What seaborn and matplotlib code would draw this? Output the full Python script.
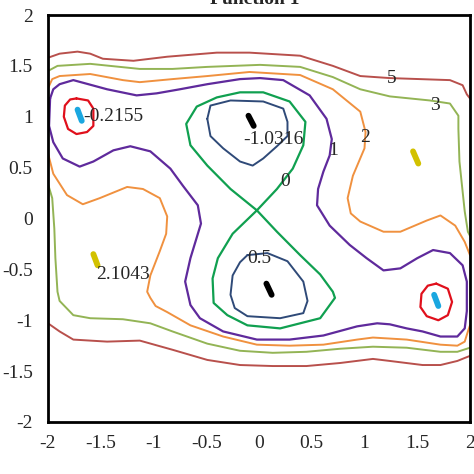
import matplotlib
matplotlib.use('Agg')
import numpy as np
import pandas as pd
import matplotlib.pyplot as plt
import seaborn as sns

sns.set_style("white")
plt.rcParams['font.family'] = ['Liberation Serif', 'DejaVu Serif']

# Contour lines (data coordinates)
lvl5_top_x = [-2.0, -1.89, -1.72, -1.60, -1.48, -1.19, -0.87, -0.40, -0.09, 0.39, 0.70, 0.96, 1.24, 1.81, 1.93, 1.97, 2.0]
lvl5_top_y = [1.58, 1.62, 1.64, 1.62, 1.57, 1.55, 1.59, 1.63, 1.63, 1.60, 1.50, 1.40, 1.38, 1.36, 1.31, 1.22, 1.18]
lvl5_bot_x = [-2.0, -1.89, -1.76, -1.44, -1.13, -0.82, -0.49, -0.18, 0.13, 0.45, 0.77, 1.08, 1.24, 1.55, 1.72, 1.88, 2.0]
lvl5_bot_y = [-1.03, -1.11, -1.19, -1.21, -1.20, -1.29, -1.39, -1.44, -1.45, -1.45, -1.42, -1.38, -1.40, -1.44, -1.44, -1.40, -1.35]

lvl3_top_x = [-2.0, -1.91, -1.60, -1.13, -0.82, -0.49, 0.01, 0.39, 0.70, 0.96, 1.24, 1.62, 1.81, 1.89, 1.89, 1.90, 1.95, 1.98, 2.0]
lvl3_top_y = [1.45, 1.50, 1.52, 1.47, 1.47, 1.49, 1.51, 1.49, 1.39, 1.27, 1.20, 1.16, 1.13, 1.01, 0.88, 0.56, 0.07, -0.13, -0.17]
lvl3_bot_x = [-2.0, -1.96, -1.94, -1.93, -1.91, -1.89, -1.76, -1.60, -1.29, -1.03, -0.82, -0.49, -0.18, 0.13, 0.45, 0.77, 1.08, 1.40, 1.72, 1.88, 2.0]
lvl3_bot_y = [0.34, 0.20, -0.10, -0.39, -0.72, -0.81, -0.95, -0.98, -0.99, -1.03, -1.11, -1.23, -1.30, -1.32, -1.31, -1.28, -1.26, -1.27, -1.31, -1.31, -1.27]

lvl2_top_x = [-2.0, -1.96, -1.89, -1.60, -1.29, -1.13, -0.82, -0.49, -0.09, 0.39, 0.70, 0.96, 1.01, 1.00, 0.89, 0.84, 0.87, 0.96, 1.18, 1.34, 1.59, 1.72, 1.86, 1.95, 2.0]
lvl2_top_y = [1.28, 1.37, 1.40, 1.42, 1.36, 1.34, 1.37, 1.40, 1.44, 1.41, 1.27, 1.05, 0.85, 0.69, 0.42, 0.20, 0.05, -0.03, -0.13, -0.13, -0.02, 0.03, -0.07, -0.23, -0.36]
lvl2_bot_x = [-2.0, -1.95, -1.82, -1.67, -1.51, -1.25, -1.10, -0.94, -0.87, -0.88, -0.94, -1.03, -1.06, -1.03, -0.98, -0.87, -0.65, -0.34, -0.02, 0.29, 0.61, 0.93, 1.08, 1.40, 1.72, 1.88, 1.95, 1.98, 2.0]
lvl2_bot_y = [0.64, 0.44, 0.23, 0.14, 0.20, 0.31, 0.29, 0.20, 0.02, -0.15, -0.32, -0.56, -0.72, -0.78, -0.86, -0.92, -1.05, -1.16, -1.24, -1.25, -1.24, -1.19, -1.17, -1.19, -1.24, -1.25, -1.21, -1.11, -1.05]

lvl1_x = [-1.98, -1.95, -1.89, -1.76, -1.44, -1.16, -0.97, -0.75, -0.49, -0.18, 0.01, 0.23, 0.48, 0.64, 0.69, 0.67, 0.61, 0.56, 0.55, 0.67, 0.86, 1.02, 1.18, 1.34, 1.50, 1.65, 1.81, 1.93, 1.97, 1.97, 1.95, 1.88, 1.72, 1.55, 1.40, 1.24, 1.12, 0.93, 0.61, 0.29, -0.02, -0.34, -0.56, -0.65, -0.70, -0.65, -0.55, -0.58, -0.72, -0.84, -1.03, -1.22, -1.38, -1.57, -1.70, -1.86, -1.95, -1.99, -1.98]
lvl1_y = [1.18, 1.27, 1.32, 1.36, 1.27, 1.21, 1.23, 1.27, 1.32, 1.37, 1.38, 1.36, 1.21, 0.98, 0.78, 0.62, 0.46, 0.29, 0.13, -0.07, -0.26, -0.39, -0.51, -0.49, -0.39, -0.31, -0.34, -0.46, -0.62, -0.91, -1.08, -1.16, -1.16, -1.11, -1.08, -1.04, -1.03, -1.06, -1.15, -1.19, -1.19, -1.11, -0.98, -0.85, -0.62, -0.39, -0.05, 0.13, 0.32, 0.49, 0.66, 0.71, 0.67, 0.56, 0.51, 0.59, 0.75, 0.91, 1.18]

lvl0_x = [-0.02, -0.27, -0.49, -0.65, -0.69, -0.59, -0.40, -0.18, 0.04, 0.29, 0.44, 0.42, 0.32, 0.17, -0.02, 0.17, 0.39, 0.58, 0.70, 0.72, 0.58, 0.20, -0.11, -0.30, -0.43, -0.44, -0.39, -0.25, -0.02]
lvl0_y = [0.08, 0.29, 0.52, 0.72, 0.93, 1.10, 1.19, 1.24, 1.24, 1.15, 0.95, 0.72, 0.49, 0.29, 0.08, -0.13, -0.36, -0.55, -0.72, -0.78, -0.98, -1.08, -1.05, -0.95, -0.83, -0.59, -0.39, -0.15, 0.08]

lvlm_top_x = [-0.49, -0.46, -0.27, 0.04, 0.23, 0.27, 0.27, 0.17, 0.04, -0.06, -0.18, -0.34, -0.46, -0.49]
lvlm_top_y = [0.98, 1.11, 1.16, 1.15, 1.08, 0.95, 0.81, 0.71, 0.59, 0.52, 0.56, 0.69, 0.81, 0.98]
lvlm_bot_x = [-0.11, 0.08, 0.27, 0.42, 0.46, 0.42, 0.20, -0.11, -0.23, -0.27, -0.25, -0.18, -0.11]
lvlm_bot_y = [-0.36, -0.34, -0.42, -0.62, -0.81, -0.93, -0.98, -0.96, -0.88, -0.75, -0.56, -0.43, -0.36]

red_left_x = [-1.73, -1.62, -1.57, -1.57, -1.63, -1.73, -1.81, -1.85, -1.84, -1.79, -1.73]
red_left_y = [1.18, 1.16, 1.08, 0.91, 0.85, 0.83, 0.88, 1.00, 1.11, 1.17, 1.18]
red_right_x = [1.68, 1.79, 1.83, 1.79, 1.70, 1.59, 1.53, 1.54, 1.60, 1.68]
red_right_y = [-0.64, -0.69, -0.82, -0.95, -1.00, -0.96, -0.87, -0.74, -0.66, -0.64]

# optimum markers (short strokes)
mark_cyan = [([-1.72, -1.68], [1.07, 0.96]), ([1.66, 1.70], [-0.75, -0.86])]
mark_black = [([-0.10, -0.05], [1.01, 0.91]), ([0.07, 0.12], [-0.64, -0.75])]
mark_yellow = [([-1.57, -1.53], [-0.35, -0.46]), ([1.46, 1.51], [0.66, 0.54])]

# labels
value_labels = ['-0.2155', '-1.0316', '0.5', '2.1043']
value_pos = [(-1.67, 1.0), (-0.15, 0.78), (-0.11, -0.39), (-1.54, -0.55)]
level_labels = ['5', '3', '2', '1', '0']
level_pos = [(1.26, 1.38), (1.67, 1.11), (1.01, 0.80), (0.70, 0.67), (0.25, 0.36)]

ticks = [-2, -1.5, -1, -0.5, 0, 0.5, 1, 1.5, 2]
tick_labels = ['-2', '-1.5', '-1', '-0.5', '0', '0.5', '1', '1.5', '2']

c_brown = '#B8504C'
c_lgreen = '#93B455'
c_orange = '#F0913F'
c_purple = '#5F2A9C'
c_green = '#10A050'
c_navy = '#2F4A78'
c_red = '#E0101C'

lines = [
    (lvl5_top_x, lvl5_top_y, c_brown, 1.4),
    (lvl5_bot_x, lvl5_bot_y, c_brown, 1.4),
    (lvl3_top_x, lvl3_top_y, c_lgreen, 1.4),
    (lvl3_bot_x, lvl3_bot_y, c_lgreen, 1.4),
    (lvl2_top_x, lvl2_top_y, c_orange, 1.4),
    (lvl2_bot_x, lvl2_bot_y, c_orange, 1.4),
    (lvl1_x, lvl1_y, c_purple, 1.6),
    (lvl0_x, lvl0_y, c_green, 1.6),
    (lvlm_top_x, lvlm_top_y, c_navy, 1.4),
    (lvlm_bot_x, lvlm_bot_y, c_navy, 1.4),
    (red_left_x, red_left_y, c_red, 1.6),
    (red_right_x, red_right_y, c_red, 1.6),
]

fig = plt.figure(figsize=(4.74, 4.74), dpi=100)
ax = fig.add_axes([48/474, 52/474, 422/474, 407/474])

for xs, ys, col, lw in lines:
    df = pd.DataFrame({'x': xs, 'y': ys})
    sns.lineplot(data=df, x='x', y='y', sort=False, estimator=None, color=col, lw=lw, ax=ax)

for marks, col in [(mark_cyan, '#1AA7E0'), (mark_black, 'black'), (mark_yellow, '#D2C100')]:
    for xs, ys in marks:
        ax.plot(xs, ys, color=col, lw=4.2, solid_capstyle='round')

for txt, (x, y) in zip(value_labels, value_pos):
    ax.text(x, y, txt, ha='left', va='center', fontsize=14)
for txt, (x, y) in zip(level_labels, level_pos):
    ax.text(x, y, txt, ha='center', va='center', fontsize=14)

ax.set_xlim(-2, 2)
ax.set_ylim(-2, 2)
ax.set_xticks(ticks)
ax.set_xticklabels(tick_labels)
ax.set_yticks(ticks)
ax.set_yticklabels(tick_labels)
ax.tick_params(length=0, labelsize=14)
ax.tick_params(axis='y', pad=11)
ax.tick_params(axis='x', pad=9)
ax.set_xlabel('')
ax.set_ylabel('')
for s in ax.spines.values():
    s.set_visible(True)
    s.set_color('black')
    s.set_linewidth(2)

fig.text(255/474, 1 - 4/474, 'Function 1', ha='center', va='baseline', fontsize=14, fontweight='bold')

fig.savefig('out.png', dpi=100)
